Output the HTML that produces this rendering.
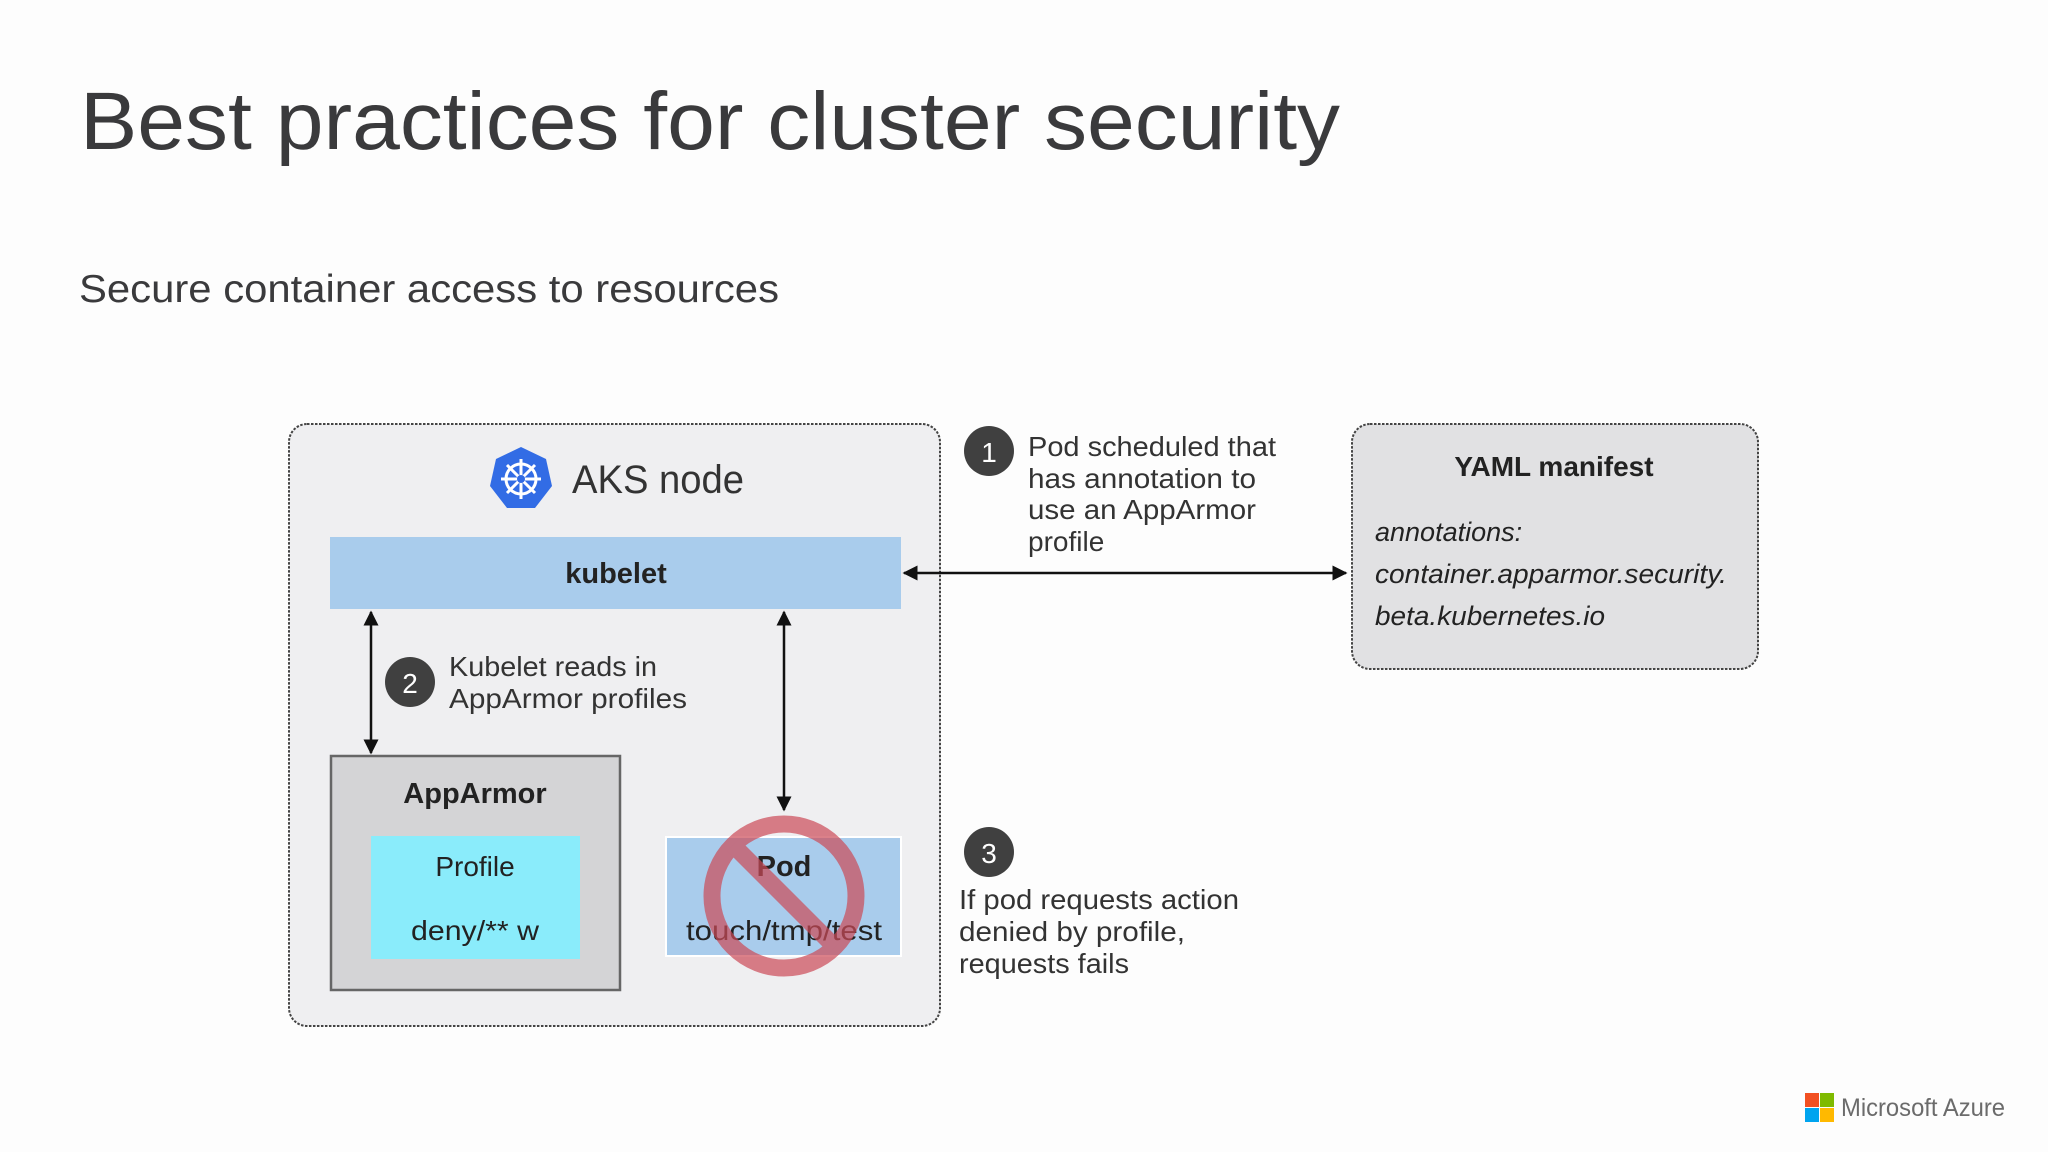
<!DOCTYPE html>
<html><head><meta charset="utf-8"><style>
html,body{margin:0;padding:0;background:#fdfdfd;}
svg{display:block;}
text{font-family:"Liberation Sans",sans-serif;}
</style></head><body>
<svg width="2048" height="1152" viewBox="0 0 2048 1152" xmlns="http://www.w3.org/2000/svg">
<defs>
<marker id="ah" viewBox="0 0 10 10" refX="9" refY="5" markerWidth="6" markerHeight="6" orient="auto-start-reverse"><path d="M0,0 L10,5 L0,10 z" fill="#111"/></marker>
</defs>
<rect width="2048" height="1152" fill="#fdfdfd"/>
<text x="80" y="149" font-size="82" fill="#3a3a3c" textLength="1260" lengthAdjust="spacingAndGlyphs">Best practices for cluster security</text>
<text x="79" y="302" font-size="39" fill="#3a3a3c" textLength="700" lengthAdjust="spacingAndGlyphs">Secure container access to resources</text>

<!-- AKS node -->
<rect x="289" y="424" width="651" height="602" rx="18" fill="#efeff1" stroke="#444" stroke-width="2" stroke-dasharray="2.5,1.5"/>
<polygon points="521,447 546,459 552,486 535,508 507,508 490,486 496,459" fill="#326ce5"/>
<circle cx="521" cy="479" r="15" fill="none" stroke="#fff" stroke-width="3"/>
<g stroke="#fff" stroke-width="3"><line x1="521" y1="459" x2="521" y2="499"/><line x1="501" y1="479" x2="541" y2="479"/><line x1="507" y1="465" x2="535" y2="493"/><line x1="535" y1="465" x2="507" y2="493"/></g>
<circle cx="521" cy="479" r="4" fill="#326ce5"/>
<text x="572" y="493" font-size="40" fill="#333" textLength="172" lengthAdjust="spacingAndGlyphs">AKS node</text>

<rect x="330" y="537" width="571" height="72" fill="#a9ccec"/>
<text x="616" y="583" font-size="29" font-weight="bold" fill="#222" text-anchor="middle">kubelet</text>

<line x1="371" y1="612" x2="371" y2="753" stroke="#111" stroke-width="2.5" marker-start="url(#ah)" marker-end="url(#ah)"/>
<line x1="784" y1="612" x2="784" y2="810" stroke="#111" stroke-width="2.5" marker-start="url(#ah)" marker-end="url(#ah)"/>
<line x1="904" y1="573" x2="1346" y2="573" stroke="#111" stroke-width="2.5" marker-start="url(#ah)" marker-end="url(#ah)"/>

<circle cx="410" cy="682" r="25" fill="#404040"/>
<text x="410" y="693" font-size="28" fill="#fff" text-anchor="middle">2</text>
<text x="449" y="676" font-size="28" fill="#333" textLength="208" lengthAdjust="spacingAndGlyphs">Kubelet reads in</text>
<text x="449" y="708" font-size="28" fill="#333" textLength="238" lengthAdjust="spacingAndGlyphs">AppArmor profiles</text>

<rect x="331" y="756" width="289" height="234" fill="#d4d4d6" stroke="#666" stroke-width="2.5"/>
<text x="475" y="803" font-size="29" font-weight="bold" fill="#222" text-anchor="middle">AppArmor</text>
<rect x="371" y="836" width="209" height="123" fill="#8aecfb"/>
<text x="475" y="876" font-size="28" fill="#222" text-anchor="middle">Profile</text>
<text x="475" y="940" font-size="28" fill="#222" text-anchor="middle" textLength="128" lengthAdjust="spacingAndGlyphs">deny/** w</text>

<rect x="666" y="837" width="235" height="119" fill="#a9ccec" stroke="#fff" stroke-width="2"/>
<text x="784" y="876" font-size="29" font-weight="bold" fill="#222" text-anchor="middle">Pod</text>
<text x="784" y="940" font-size="28" fill="#222" text-anchor="middle" textLength="196" lengthAdjust="spacingAndGlyphs">touch/tmp/test</text>
<g opacity="0.7" stroke="#cc4b58" stroke-width="17" fill="none">
<circle cx="784" cy="896" r="72"/>
<line x1="733" y1="845" x2="835" y2="947"/>
</g>

<!-- step 1 -->
<circle cx="989" cy="451" r="25" fill="#404040"/>
<text x="989" y="462" font-size="28" fill="#fff" text-anchor="middle">1</text>
<g font-size="28" fill="#333">
<text x="1028" y="456" textLength="248" lengthAdjust="spacingAndGlyphs">Pod scheduled that</text>
<text x="1028" y="488" textLength="228" lengthAdjust="spacingAndGlyphs">has annotation to</text>
<text x="1028" y="519" textLength="228" lengthAdjust="spacingAndGlyphs">use an AppArmor</text>
<text x="1028" y="551">profile</text>
</g>

<!-- YAML -->
<rect x="1352" y="424" width="406" height="245" rx="18" fill="#e1e1e3" stroke="#444" stroke-width="2" stroke-dasharray="2.5,1.5"/>
<text x="1554" y="476" font-size="28" font-weight="bold" fill="#222" text-anchor="middle">YAML manifest</text>
<g font-size="27" font-style="italic" fill="#222">
<text x="1375" y="541">annotations:</text>
<text x="1375" y="583" textLength="352" lengthAdjust="spacingAndGlyphs">container.apparmor.security.</text>
<text x="1375" y="625" textLength="230" lengthAdjust="spacingAndGlyphs">beta.kubernetes.io</text>
</g>

<!-- step 3 -->
<circle cx="989" cy="852" r="25" fill="#404040"/>
<text x="989" y="863" font-size="28" fill="#fff" text-anchor="middle">3</text>
<g font-size="28" fill="#333">
<text x="959" y="909" textLength="280" lengthAdjust="spacingAndGlyphs">If pod requests action</text>
<text x="959" y="941" textLength="226" lengthAdjust="spacingAndGlyphs">denied by profile,</text>
<text x="959" y="973" textLength="170" lengthAdjust="spacingAndGlyphs">requests fails</text>
</g>

<!-- MS logo -->
<rect x="1805" y="1093" width="14" height="14" fill="#f25022"/>
<rect x="1820" y="1093" width="14" height="14" fill="#7fba00"/>
<rect x="1805" y="1108" width="14" height="14" fill="#00a4ef"/>
<rect x="1820" y="1108" width="14" height="14" fill="#ffb900"/>
<text x="1841" y="1116" font-size="25" fill="#6b6b6b" textLength="164" lengthAdjust="spacingAndGlyphs">Microsoft Azure</text>
</svg>
</body></html>
